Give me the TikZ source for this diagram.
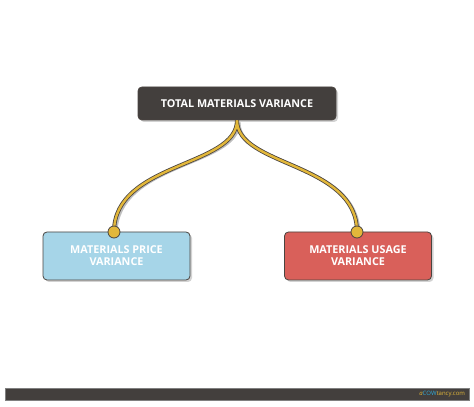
\documentclass[tikz,border=0pt]{standalone}
\usepackage{fontspec}
\setsansfont{Open Sans}
\usetikzlibrary{calc, positioning, shadows}

\definecolor{boxdark}{HTML}{433F3D}
\definecolor{boxblue}{HTML}{A6D5E8}
\definecolor{boxred}{HTML}{D9605A}
\definecolor{wire}{HTML}{E2B73A}
\definecolor{edge}{HTML}{4A4440}
\definecolor{logoblue}{HTML}{2FA9D6}

\begin{document}
\begin{tikzpicture}[
    x=1pt, y=1pt,
    box/.style={draw=edge, line width=0.8pt, rounded corners=4pt, text=white,
        font=\sffamily\bfseries\fontsize{10.8}{12}\selectfont, align=center,
        drop shadow={shadow xshift=2pt, shadow yshift=-2pt, fill=black!35}},
    pin/.style={circle, draw=edge, line width=0.8pt, fill=wire, inner sep=0pt, minimum size=12pt},
    wireline/.style={draw=edge, line width=4pt},
    wirefill/.style={draw=wire, line width=2.4pt}
]

    \useasboundingbox (0,0) rectangle (474,407);

    % Boxes
    \node[box, fill=boxdark, minimum width=198pt, minimum height=33pt] (total) at (237,303.5) {TOTAL MATERIALS VARIANCE};
    \node[box, fill=boxblue, minimum width=147pt, minimum height=48pt] (price) at (116.5,151) {MATERIALS PRICE\\VARIANCE};
    \node[box, fill=boxred, minimum width=147pt, minimum height=48pt] (usage) at (358,151) {MATERIALS USAGE\\VARIANCE};

    % Pins on top of the lower boxes
    \coordinate (pl) at (114,175);
    \coordinate (pr) at (357,175);

    % Connector shadow, outline, fill
    \draw[black!25, line width=3pt] ($(total.south)+(2,-2)$) .. controls (239,240) and (116,245) .. ($(pl)+(2,-2)$);
    \draw[black!25, line width=3pt] ($(total.south)+(2,-2)$) .. controls (239,240) and (359,245) .. ($(pr)+(2,-2)$);
    \foreach \s in {wireline, wirefill} {
        \draw[\s] (total.south) .. controls (237,240) and (114,245) .. (pl);
        \draw[\s] (total.south) .. controls (237,240) and (357,245) .. (pr);
    }
    \node[pin] (pinl) at (pl) {};
    \node[pin] (pinr) at (pr) {};

    % Footer bar
    \node[fill=boxdark, draw=black!50, line width=0.4pt, minimum width=464pt, minimum height=12pt, inner sep=0pt] (bar) at (237,13) {};
    \node[anchor=east, inner sep=0pt, font=\sffamily\fontsize{6}{7}\selectfont] (logo) at ($(bar.east)+(-4,0)$)
        {\textcolor{wire}{\textit{a}}\textcolor{logoblue}{COW}\textcolor{wire}{tancy.com}};

\end{tikzpicture}
\end{document}
